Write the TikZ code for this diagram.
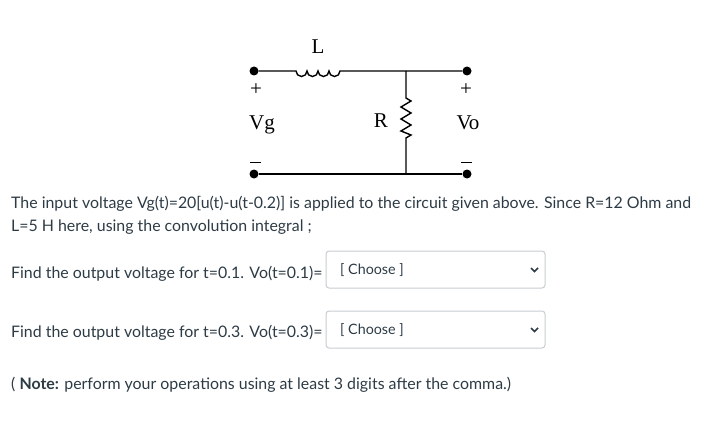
\documentclass[tikz,border=0pt]{standalone}
\usepackage{fontspec}
\setmainfont{Lato}
\newfontfamily\ckt{Liberation Serif}
\definecolor{txt}{HTML}{2D3B45}
\definecolor{boxc}{HTML}{C7CDD1}
\begin{document}
\begin{tikzpicture}[x=1pt,y=-1pt,
  wire/.style={line width=1.4pt,black},
  dot/.style={circle,fill=black,inner sep=0pt,minimum size=9pt},
  lab/.style={font=\ckt\fontsize{21}{21}\selectfont,inner sep=0pt},
  body/.style={font=\fontsize{15.9}{18}\selectfont,text=txt,inner sep=0pt,anchor=west},
  sel/.style={draw=boxc,rounded corners=3pt,line width=1pt}]
\useasboundingbox (0,0) rectangle (721,444);
\node[dot] (a) at (254,71) {};
\node[dot] (b) at (467,71) {};
\node[dot] (c) at (254,174) {};
\node[dot] (d) at (467,174) {};
\coordinate (l1) at (296,71);
\coordinate (rt) at (406,71);
\coordinate (rb) at (406,174);
\draw[wire] (a) -- (l1) arc(180:0:5.5) arc(180:0:5.5) arc(180:0:5.5) arc(180:0:5.5) -- (b);
\draw[wire] (c) -- (d);
\draw[wire] (rt) -- (406,98) -- (411,101) -- (401,107) -- (411,113) -- (401,119) -- (411,125) -- (401,131) -- (411,135) -- (406,138) -- (rb);
\node[lab] (L) at (318,47) {L};
\node[lab] (R) at (381,121) {R};
\node[lab] (vg) at (262,125) {Vg};
\node[lab] (vo) at (468,123) {Vo};
\node[lab] (p1) at (256,90) {+};
\node[lab] (p2) at (466,90) {+};
\draw[line width=1pt] (250,162) -- (261,162);
\draw[line width=1pt] (461,162) -- (472,162);
\node[body] (t1) at (11,203.5) {The input voltage Vg(t)=20[u(t)-u(t-0.2)] is applied to the circuit given above. Since R=12 Ohm and};
\node[body] (t2) at (11,227.5) {L=5 H here, using the convolution integral ;};
\node[body] (q1) at (11,273.5) {Find the output voltage for t=0.1. Vo(t=0.1)=};
\node[body] (q2) at (11,332.5) {Find the output voltage for t=0.3. Vo(t=0.3)=};
\node[body] (n) at (11,384.5) {( \textbf{Note:} perform your operations using at least 3 digits after the comma.)};
\draw[sel] (326,251) rectangle (545,288);
\draw[sel] (326,311) rectangle (545,348);
\node[body,font=\fontsize{14.3}{16}\selectfont] (c1) at (340,270.5) {[ Choose ]};
\node[body,font=\fontsize{14.3}{16}\selectfont] (c2) at (340,330.5) {[ Choose ]};
\draw[line width=1.5pt,txt] (531,268) -- (534.5,271.5) -- (538,268);
\draw[line width=1.5pt,txt] (531,328) -- (534.5,331.5) -- (538,328);
\end{tikzpicture}
\end{document}
